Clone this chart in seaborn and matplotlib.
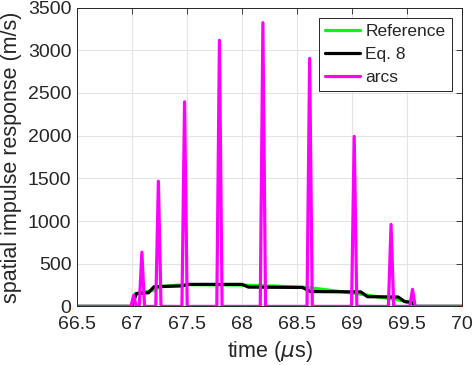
import numpy as np
import pandas as pd
import matplotlib
matplotlib.use("Agg")
import matplotlib.pyplot as plt
import seaborn as sns

# ---- data ----
ref_t = [66.5, 67.0, 67.03, 67.2, 67.26, 67.5, 68.0, 68.3, 68.6, 69.1, 69.45, 69.55, 69.58, 70.0]
ref_v = [0, 0, 150, 190, 235, 255, 250, 238, 222, 140, 70, 35, 0, 0]

eq8_t = [66.5, 67.0, 67.04, 67.15, 67.2, 67.45, 67.52, 68.0, 68.06, 68.55, 68.62, 69.08, 69.14, 69.42, 69.48, 69.54, 69.58, 70.0]
eq8_v = [0, 0, 150, 160, 230, 240, 258, 258, 226, 222, 174, 170, 114, 110, 55, 50, 0, 0]

peak_t = [67.015, 67.09, 67.24, 67.478, 67.795, 68.19, 68.615, 69.02, 69.355, 69.55]
peak_h = [130, 635, 1465, 2395, 3115, 3322, 2905, 1990, 960, 200]
peak_halfwidth = 0.024

xticks = [66.5, 67, 67.5, 68, 68.5, 69, 69.5, 70]
yticks = [0, 500, 1000, 1500, 2000, 2500, 3000, 3500]

# build arcs polyline from peak list
arc_t = [66.5]
arc_v = [0]
for t, h in zip(peak_t, peak_h):
    arc_t += [t - peak_halfwidth, t, t + peak_halfwidth]
    arc_v += [0, h, 0]
arc_t.append(70.0)
arc_v.append(0)

df = pd.concat([
    pd.DataFrame({"t": ref_t, "v": ref_v, "series": "Reference"}),
    pd.DataFrame({"t": eq8_t, "v": eq8_v, "series": "Eq. 8"}),
    pd.DataFrame({"t": arc_t, "v": arc_v, "series": "arcs"}),
], ignore_index=True)

sns.set_theme(style="whitegrid")
plt.rcParams["font.family"] = ["Liberation Sans", "DejaVu Sans"]
plt.rcParams["mathtext.fontset"] = "dejavusans"

fig = plt.figure(figsize=(4.74, 3.66), dpi=100)
ax = fig.add_axes([0.1624, 0.1628, 0.8123, 0.8167])

palette = {"Reference": "#00ff00", "Eq. 8": "#000000", "arcs": "#ff00ff"}
sns.lineplot(data=df, x="t", y="v", hue="series", hue_order=["Reference", "Eq. 8", "arcs"],
             palette=palette, estimator=None, sort=False, linewidth=2.3, ax=ax)
for ln in ax.lines:
    ln.set_solid_joinstyle("round")
    ln.set_solid_capstyle("round")

ax.set_xlim(66.5, 70)
ax.set_ylim(0, 3500)
ax.set_xticks(xticks)
ax.set_yticks(yticks)
ax.set_xticklabels([f"{x:g}" for x in xticks])
ax.set_yticklabels([f"{y:g}" for y in yticks])
ax.tick_params(axis="both", labelsize=14, colors="#262626", direction="in", length=4,
               width=0.6, top=True, right=True)
ax.tick_params(axis="x", pad=7)
ax.tick_params(axis="y", pad=4)
ax.set_xlabel(r"time ($\mu$s)", fontsize=15.5, color="#262626", labelpad=4)
ax.set_ylabel("spatial impulse response (m/s)", fontsize=15.5, color="#262626", labelpad=4)
ax.grid(True, color="#e4e4e4", linewidth=0.8)
ax.set_facecolor("white")
for s in ax.spines.values():
    s.set_color("#262626")
    s.set_linewidth(0.7)
    s.set_visible(True)

leg = ax.legend(loc="upper right", fontsize=12.5, frameon=True, fancybox=False,
                framealpha=1, edgecolor="#262626", handlelength=2.0, handletextpad=0.3,
                borderpad=0.35, labelspacing=0.45, borderaxespad=0.6)
leg.get_frame().set_linewidth(0.7)
leg.set_title(None)

fig.savefig("out.png", dpi=100)
